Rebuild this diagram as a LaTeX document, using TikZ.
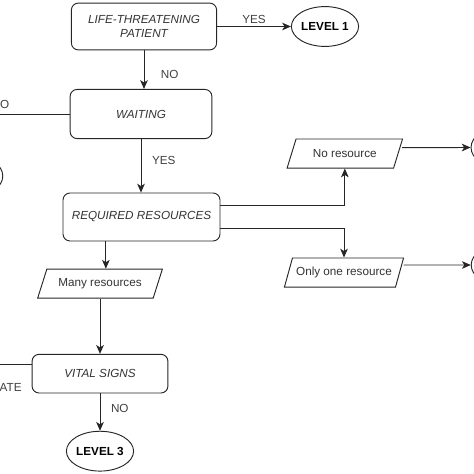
\documentclass[tikz,border=0pt]{standalone}
\usepackage{fontspec}
\setmainfont{Liberation Sans}
\usetikzlibrary{arrows.meta,shapes.geometric,calc}

\begin{document}
\begin{tikzpicture}[node distance=2.5cm]

\tikzstyle{box} = [rectangle, rounded corners=6pt, draw=black!85, line width=0.8pt, align=center, text=black!80, font=\fontsize{10}{12}\selectfont\itshape, inner sep=2pt]
\tikzstyle{io} = [trapezium, trapezium left angle=60, trapezium right angle=120, trapezium stretches=true, minimum height=24.8pt, draw=black!85, line width=0.8pt, text=black!80, font=\fontsize{10}{12}\selectfont, inner sep=1pt]
\tikzstyle{lvl} = [ellipse, minimum width=50pt, minimum height=34pt, inner sep=0pt, draw=black!85, line width=0.8pt, font=\fontsize{10}{12}\selectfont\bfseries]
\tikzstyle{lbl} = [text=black!75, font=\fontsize{10}{12}\selectfont, inner sep=2pt]
\tikzstyle{arr} = [draw=black!85, line width=0.8pt, -{Stealth[length=7.5pt,width=6.5pt,inset=2pt]}]

\useasboundingbox (0,0) rectangle (14.22,-14.22);
\clip (0,0) rectangle (14.22,-14.22);

\node (life) [box, minimum width=124pt, minimum height=40pt] at (4.32,-0.795) {LIFE-THREATENING\\PATIENT};
\node (lev1) [lvl, right of=life, node distance=5.43cm] {LEVEL 1};
\node (wait) [box, below of=life, node distance=2.625cm, xshift=-0.09cm, minimum width=121pt, minimum height=42pt] {WAITING};
\node (req) [box, below of=wait, node distance=3.09cm, xshift=0.015cm, minimum width=134pt, minimum height=41pt] {REQUIRED RESOURCES};
\node (nores) [io, right of=req, node distance=6.1cm, yshift=1.905cm, minimum width=99pt] {No resource};
\node (onlyone) [io, right of=req, node distance=6.075cm, yshift=-1.665cm, minimum width=102pt] {Only one resource};
\node (many) [io, below of=req, node distance=2.0cm, xshift=-1.245cm, minimum width=107pt] {Many resources};
\node (vital) [box, below of=many, node distance=2.7cm, minimum width=116pt, minimum height=33pt] {VITAL SIGNS};
\node (lev3) [lvl, below of=vital, node distance=2.325cm] {LEVEL 3};
% cut off by the frame
\node (lev2) [lvl, left of=wait, node distance=5.025cm, yshift=-1.86cm] {};
\node (lev5) [lvl, right of=nores, node distance=4.665cm, yshift=0.18cm] {};
\node (lev4) [lvl, right of=onlyone, node distance=4.695cm, yshift=0.225cm] {};
\coordinate (manyin) at ($(many.center |- many.north)+(5pt,0)$);

\draw[arr] (life) -- node (yes1) [lbl, above] {YES} (lev1);
\draw[arr] (life.south) -- node (no1) [lbl, pos=0.62, anchor=west, xshift=12pt] {NO} (life.south |- wait.north);
\draw[arr] (wait.south) -- node (yes2) [lbl, pos=0.4, anchor=west, xshift=7pt] {YES} (wait.south |- req.north);
\draw[arr] ([yshift=10pt]req.east) -| (nores.south);
\draw[arr] ([yshift=-10pt]req.east) -| (onlyone.north);
\draw[arr] ([yshift=5pt,xshift=3pt]nores.east) -- (lev5.west);
\draw[arr] ([yshift=6.4pt,xshift=3pt]onlyone.east) -- (lev4.west);
\draw[arr] (req.south -| manyin) -- (manyin);
\draw[arr] (vital.north |- many.south) -- (vital.north);
\draw[arr] (vital) -- node (no3) [lbl, pos=0.4, anchor=west, xshift=7pt] {NO} (lev3);
\draw[arr] (wait.west) -| node (no2) [lbl, above, pos=0.36, yshift=2pt] {NO} (lev2.north);
\draw[arr] ([yshift=8pt]vital.west) -| node (ate) [lbl, below, pos=0.18, yshift=-14pt] {ATE} (lev2.south);
\end{tikzpicture}
\end{document}
